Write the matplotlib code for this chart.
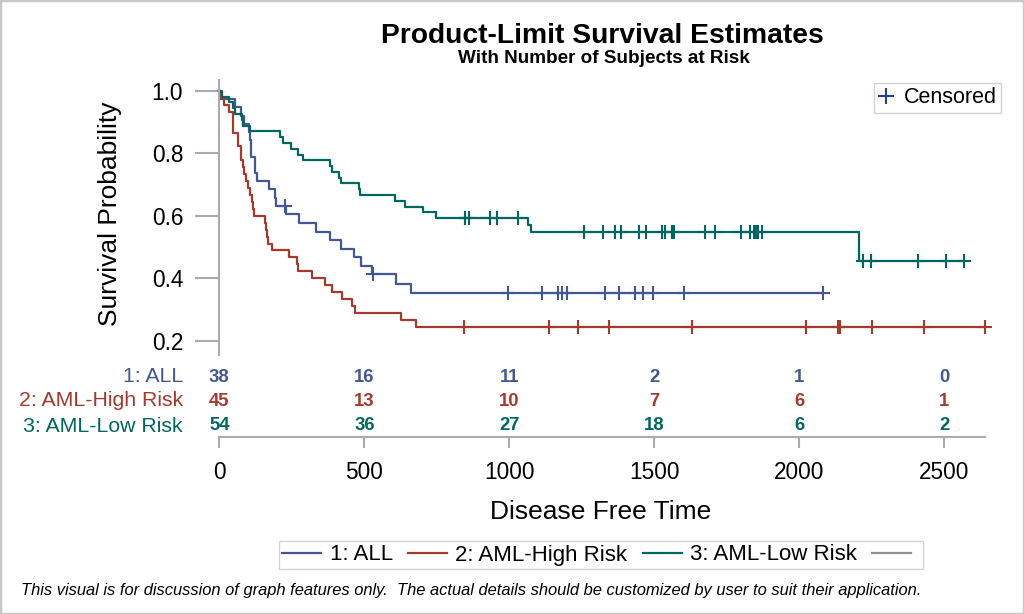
import numpy as np
import matplotlib
matplotlib.use("Agg")
import matplotlib.pyplot as plt
from matplotlib.lines import Line2D
from matplotlib.patches import Rectangle

plt.rcParams['font.family'] = ['Liberation Sans', 'DejaVu Sans']

# disease free time per group: events (status=1) and censored (status=0)
all_events = [418, 383, 276, 104, 609, 172, 487, 662, 194, 230, 526, 122, 129, 74,
              122, 86, 466, 192, 109, 55, 1, 107, 110, 332]
all_censored = [2081, 1602, 1496, 1462, 1433, 1377, 1330, 996, 226, 1199, 1111, 530,
                1182, 1167]

high_events = [422, 162, 84, 100, 2, 47, 242, 456, 268, 318, 32, 467, 47, 390, 183,
               105, 115, 164, 93, 120, 80, 677, 64, 168, 74, 16, 157, 625, 48, 273,
               63, 76, 113, 363]
high_censored = [2640, 2430, 2252, 2140, 2133, 1238, 1631, 2024, 1345, 1136, 845]

low_events = [414, 2204, 1063, 481, 105, 641, 390, 288, 421, 79, 748, 486, 48, 272,
              1074, 381, 10, 53, 80, 35, 248, 704, 211, 219, 606]
low_censored = [2569, 2506, 2409, 2218, 1857, 1829, 1562, 1470, 1363, 1030, 860, 1258,
                2246, 1870, 1799, 1709, 1674, 1568, 1527, 1324, 957, 932, 847, 848,
                1850, 1843, 1535, 1447, 1384]

group_names = ['1: ALL', '2: AML-High Risk', '3: AML-Low Risk']
colors = ['#445694', '#A23A2E', '#01665E']

# number of subjects at risk
risk_times = [0, 500, 1000, 1500, 2000, 2500]
atrisk_all = [38, 16, 11, 2, 1, 0]
atrisk_high = [45, 13, 10, 7, 6, 1]
atrisk_low = [54, 36, 27, 18, 6, 2]

footnote = ("This visual is for discussion of graph features only.  The actual details "
            "should be customized by user to suit their application.")


def product_limit(events, censored):
    times = np.array(events + censored, dtype=float)
    events = np.array(events, dtype=float)
    xs, ys = [0.0], [1.0]
    surv = 1.0
    for t in np.unique(events):
        n = np.sum(times >= t)
        d = np.sum(events == t)
        surv *= 1 - d / n
        xs.append(t)
        ys.append(surv)
    xs.append(times.max())
    ys.append(surv)
    return np.array(xs), np.array(ys)


W, H = 1024, 614
fig = plt.figure(figsize=(W / 100, H / 100), dpi=100)

def fx(px):
    return px / W

def fy(py):
    return 1 - py / H

axis_col = '#A8ACB0'
left, right = 219.3, 985

# survival curves
ax = fig.add_axes([fx(left), fy(355), fx(right - left), (355 - 80) / H])
groups = [(all_events, all_censored), (high_events, high_censored), (low_events, low_censored)]
for (ev, cens), col, name in zip(groups, colors, group_names):
    xs, ys = product_limit(ev, cens)
    ax.step(xs, ys, where='post', color=col, lw=1.6, clip_on=False)
    cens = np.array(sorted(cens), dtype=float)
    idx = np.searchsorted(xs[:-1], cens, side='right') - 1
    ax.plot(cens, ys[idx], ls='none', marker='+', ms=10, mew=1.5, color=col, clip_on=False)

ax.set_xlim(0, 2640)
ax.set_ylim(0.154, 1.035)
ax.set_yticks([0.2, 0.4, 0.6, 0.8, 1.0])
ax.set_yticklabels(['0.2', '0.4', '0.6', '0.8', '1.0'])
ax.set_xticks([])
for s in ['top', 'right', 'bottom']:
    ax.spines[s].set_visible(False)
ax.spines['left'].set_color(axis_col)
ax.spines['left'].set_linewidth(1.5)
ax.tick_params(axis='y', length=17, width=1.5, color=axis_col, labelsize=16.3, pad=9)

# censored legend
ax.legend([Line2D([], [], ls='none', marker='+', ms=11, mew=1.5, color='#243F98')],
          ['Censored'], loc='upper right', bbox_to_anchor=(fx(1001), fy(83)),
          bbox_transform=fig.transFigure, fontsize=15.5, frameon=True, fancybox=False,
          edgecolor='#C8C8C8', handlelength=0.8, handletextpad=0.4, borderpad=0.2,
          borderaxespad=0)

# at-risk table and x axis
ax2 = fig.add_axes([fx(left), fy(437), fx(right - left), (437 - 360) / H])
ax2.set_xlim(0, 2640)
ax2.set_ylim(0, 1)
ax2.set_yticks([])
ax2.set_xticks(risk_times)
for s in ['top', 'right', 'left']:
    ax2.spines[s].set_visible(False)
ax2.spines['bottom'].set_color(axis_col)
ax2.spines['bottom'].set_linewidth(1.5)
ax2.tick_params(axis='x', length=8, width=1.5, color=axis_col, labelsize=16.3, pad=9)
ax2.patch.set_alpha(0)

row_y = [(437 - 377) / 77, (437 - 401) / 77, (437 - 426) / 77]
for counts, col, name, yy in zip([atrisk_all, atrisk_high, atrisk_low], colors, group_names, row_y):
    ax2.text((183 - left) / (right - left), yy, name, transform=ax2.transAxes,
             ha='right', va='center', color=col, fontsize=15.3)
    for t, c in zip(risk_times, counts):
        ax2.text(t, yy, str(c), transform=ax2.get_xaxis_transform(), ha='center',
                 va='center', color=col, fontsize=13.3, fontweight='bold')

# titles and labels
fig.text(fx(602), fy(43), 'Product-Limit Survival Estimates', ha='center', va='baseline',
         fontsize=20.3, fontweight='bold')
fig.text(fx(604), fy(63), 'With Number of Subjects at Risk', ha='center', va='baseline',
         fontsize=13.6, fontweight='bold')
fig.text(fx(601), fy(512), 'Disease Free Time', ha='center', va='center', fontsize=19)
fig.text(fx(110), fy(214), 'Survival Probability', ha='center', va='center',
         rotation=90, fontsize=19)

# bottom legend
handles = [Line2D([], [], color=c, lw=1.6) for c in colors]
handles.append(Line2D([], [], color='#909090', lw=1.6))
fig.legend(handles, group_names + [''], loc='center', bbox_to_anchor=(fx(601), fy(555)),
           ncol=4, fontsize=16, frameon=True, fancybox=False, edgecolor='#C8C8C8',
           handlelength=1.75, handletextpad=0.37, columnspacing=0.7, borderpad=0.15)

fig.text(fx(21), fy(590), footnote, ha='left', va='center', fontsize=11.85, style='italic')

fig.patches.append(Rectangle((0, 0), 1, 1, transform=fig.transFigure, fill=False,
                             edgecolor='#C8C8C8', lw=2.5))

fig.savefig('out.png', dpi=100)
